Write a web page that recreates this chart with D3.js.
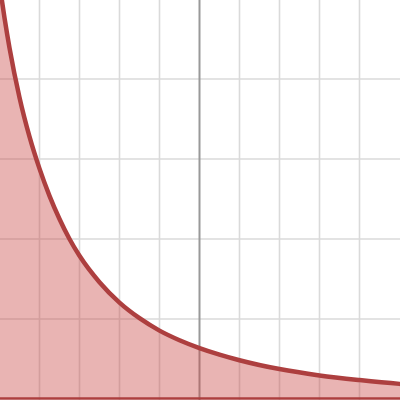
<!DOCTYPE html>
<html>
<head>
<meta charset="utf-8">
<script src="https://cdn.jsdelivr.net/npm/d3@7"></script>
<style>
  html, body { margin: 0; padding: 0; background: #fff; overflow: hidden; }
  svg { display: block; }
</style>
</head>
<body>
<div id="chart"></div>
<script>
// values (x, y in graph units)
const curveX = [-5.05, -5.0, -4.875, -4.75, -4.5, -4.25, -4.0, -3.75, -3.5, -3.25, -3.0, -2.5, -2.0, -1.5, -1.0, -0.5, 0, 0.5, 1, 2, 3, 4, 5, 5.1];
const curveY = [5.35, 5.185, 4.765, 4.39, 3.77, 3.28, 2.88, 2.54, 2.25, 2.0, 1.79, 1.46, 1.205, 1.01, 0.855, 0.735, 0.637, 0.555, 0.485, 0.374, 0.295, 0.237, 0.189, 0.185];
const xTicks = [-4, -3, -2, -1, 1, 2, 3, 4];
const yTicks = [1, 2, 3, 4];

const width = 400, height = 400;

const x = d3.scaleLinear().domain([-5, 5]).range([-0.5, 399.5]);
const y = d3.scaleLinear().domain([0, 5]).range([399, -1]);

const svg = d3.select("#chart").append("svg")
  .attr("width", width)
  .attr("height", height);

const points = curveX.map((d, i) => ({ x: d, y: curveY[i] }));

// grid
svg.append("g")
  .selectAll("line")
  .data(xTicks)
  .join("line")
  .attr("x1", d => x(d)).attr("x2", d => x(d))
  .attr("y1", 0).attr("y2", height)
  .attr("stroke", "#dadada")
  .attr("stroke-width", 1.6);

svg.append("g")
  .selectAll("line")
  .data(yTicks)
  .join("line")
  .attr("x1", 0).attr("x2", width)
  .attr("y1", d => y(d)).attr("y2", d => y(d))
  .attr("stroke", "#dadada")
  .attr("stroke-width", 1.6);

// y axis
svg.append("line")
  .attr("x1", x(0)).attr("x2", x(0))
  .attr("y1", 0).attr("y2", height)
  .attr("stroke", "#999")
  .attr("stroke-width", 2);

// shaded region under the curve
const area = d3.area()
  .x(d => x(d.x))
  .y0(y(0))
  .y1(d => y(d.y))
  .curve(d3.curveMonotoneX);

svg.append("path")
  .datum(points)
  .attr("d", area)
  .attr("fill", "#c74440")
  .attr("fill-opacity", 0.4);

// baseline
svg.append("line")
  .attr("x1", 0).attr("x2", width)
  .attr("y1", y(0) - 0.5).attr("y2", y(0) - 0.5)
  .attr("stroke", "#ad3f3f")
  .attr("stroke-width", 2.5);

const line = d3.line()
  .x(d => x(d.x))
  .y(d => y(d.y))
  .curve(d3.curveMonotoneX);

svg.append("path")
  .datum(points)
  .attr("d", line)
  .attr("fill", "none")
  .attr("stroke", "#ad3f3f")
  .attr("stroke-width", 4.5)
  .attr("stroke-linejoin", "round");
</script>
</body>
</html>
